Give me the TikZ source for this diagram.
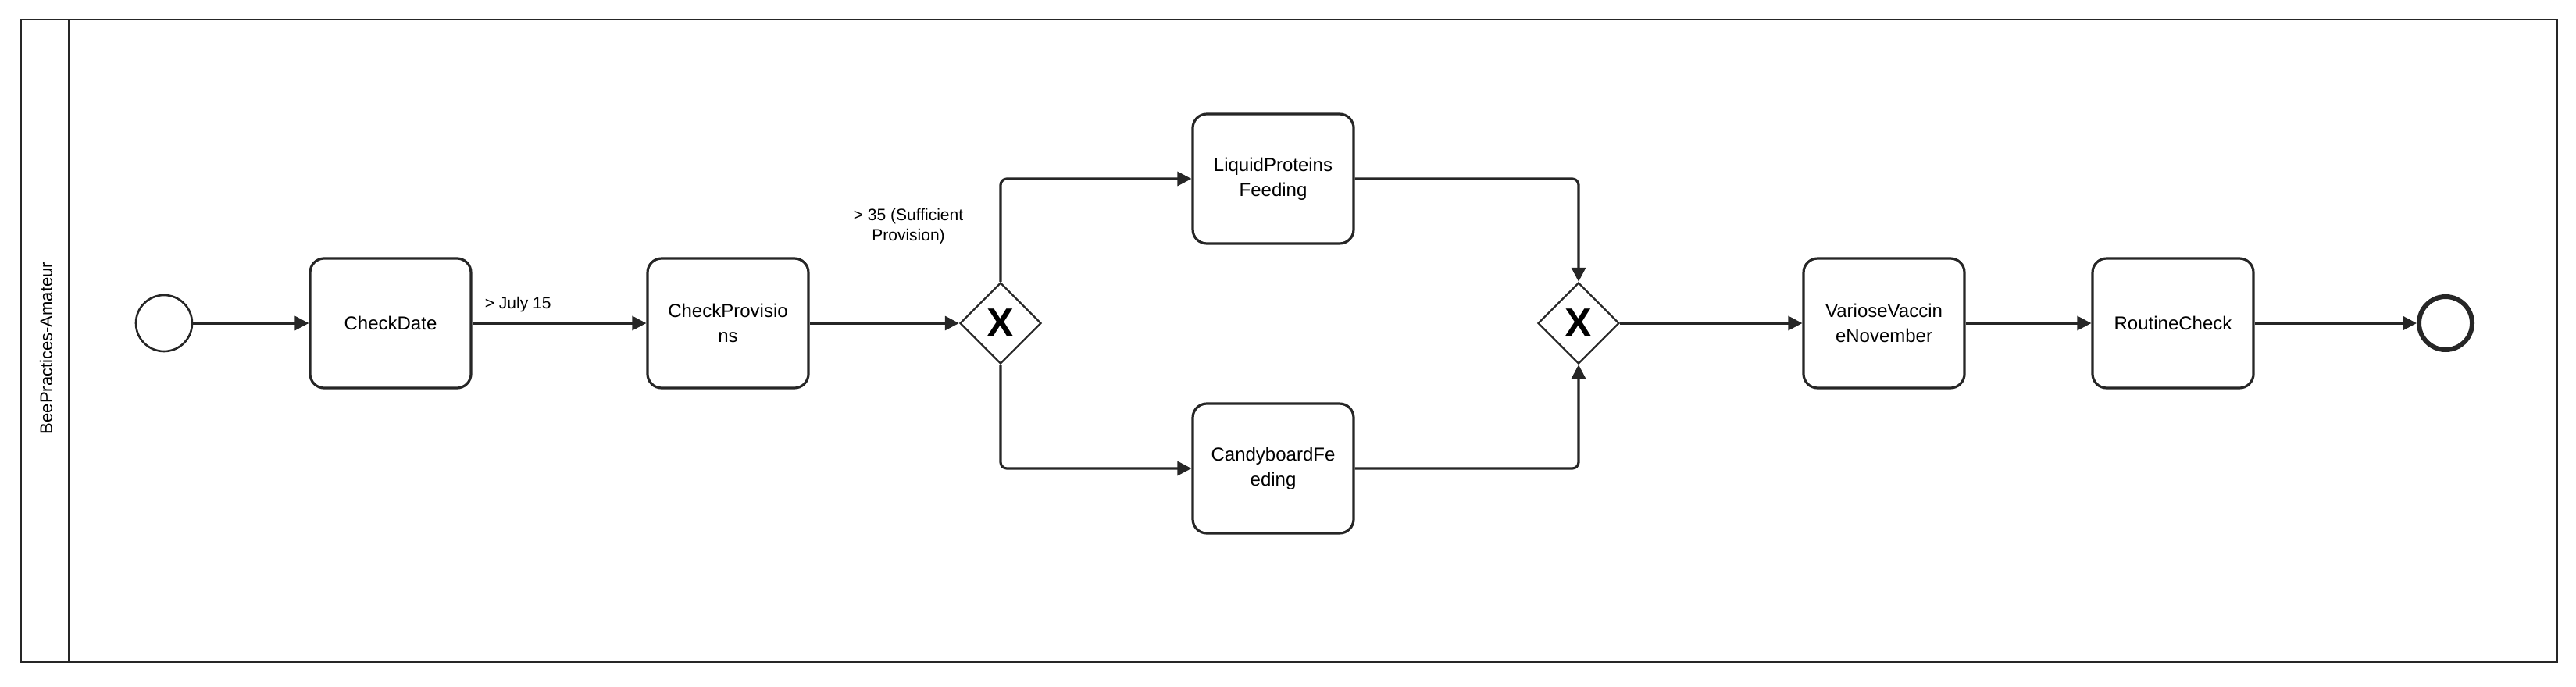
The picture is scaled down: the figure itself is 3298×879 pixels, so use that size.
\documentclass[tikz,border=0pt]{standalone}
\usepackage{fontspec}
\setmainfont{Liberation Sans}
\usetikzlibrary{shapes.geometric,arrows.meta}
\begin{document}
\begin{tikzpicture}[x=0.5pt,y=-0.5pt,
  task/.style={draw=black!85,line width=1.6pt,rounded corners=9pt,minimum width=103pt,minimum height=83pt,align=center,font=\fontsize{12}{16}\selectfont,text width=95pt},
  gw/.style={draw=black!85,line width=1.2pt,diamond,minimum width=52pt,minimum height=52pt,inner sep=0pt,font=\fontsize{26}{26}\selectfont\bfseries},
  flow/.style={draw=black!85,line width=1.6pt,-{Triangle[length=9pt,width=9pt]},rounded corners=4pt},
  lbl/.style={font=\fontsize{10.5}{13}\selectfont,align=center}]
\useasboundingbox (0,0) rectangle (3298,879);
\draw[line width=1.3pt,black!85] (27,25) rectangle (3274,848);
\draw[line width=0.8pt,black!85] (88,25) -- (88,848);
\node[rotate=90,font=\fontsize{11}{13}\selectfont] (lane) at (59,446) {BeePractices-Amateur};
\node[circle,draw=black!85,line width=1.3pt,minimum size=36pt,inner sep=0pt] (s) at (210,414) {};
\node[task] (cd) at (500,414) {CheckDate};
\node[task] (cp) at (932,414) {CheckProvisio\\ns};
\node[gw] (g1) at (1281,414) {X};
\node[task] (lp) at (1630,229) {LiquidProteins\\Feeding};
\node[task] (cb) at (1630,600) {CandyboardFe\\eding};
\node[gw] (g2) at (2021,414) {X};
\node[task] (vv) at (2412,414) {VarioseVaccin\\eNovember};
\node[task] (rc) at (2782,414) {RoutineCheck};
\node[circle,draw=black!85,line width=3pt,minimum size=34pt,inner sep=0pt] (e) at (3131,414) {};
\draw[flow] (s) -- (cd);
\draw[flow] (cd) -- node[lbl,pos=0,anchor=south west,xshift=4pt,yshift=3pt] {> July 15} (cp);
\draw[flow] (cp) -- (g1);
\draw[flow] (g1.north) |- (lp.west);
\draw[flow] (g1.south) |- (cb.west);
\draw[flow] (lp.east) -| (g2.north);
\draw[flow] (cb.east) -| (g2.south);
\draw[flow] (g2) -- (vv);
\draw[flow] (vv) -- (rc);
\draw[flow] (rc) -- (e);
\node[lbl] (l35) at (1163,290) {> 35 (Sufficient\\Provision)};
\end{tikzpicture}
\end{document}
